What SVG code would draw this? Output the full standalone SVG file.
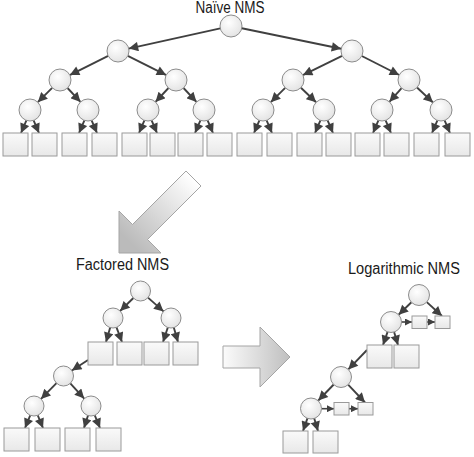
<svg xmlns="http://www.w3.org/2000/svg" width="474" height="457" viewBox="0 0 474 457">
<style>
.t{font-family:"Liberation Sans",Arial,sans-serif;font-size:16px;fill:#1a1a1a;text-anchor:middle}
.c{fill:url(#cg);stroke:#8c8c8c;stroke-width:1}
.b{fill:url(#bg);stroke:#9a9a9a;stroke-width:1}
.e{stroke:#404040;stroke-width:1.9;fill:none;marker-end:url(#ah)}
.s{stroke:#404040;stroke-width:1.6;fill:none;marker-end:url(#as)}
</style>
<defs>
<radialGradient id="cg" cx="0.4" cy="0.35" r="0.7">
<stop offset="0" stop-color="#ffffff"/><stop offset="1" stop-color="#e2e2e2"/>
</radialGradient>
<linearGradient id="bg" x1="0" y1="0" x2="0" y2="1">
<stop offset="0" stop-color="#fafafa"/><stop offset="1" stop-color="#e8e8e8"/>
</linearGradient>
<linearGradient id="ga" gradientUnits="userSpaceOnUse" x1="193" y1="178" x2="130" y2="242">
<stop offset="0" stop-color="#ffffff"/><stop offset="1" stop-color="#bbbbbb"/>
</linearGradient>
<linearGradient id="gr" gradientUnits="userSpaceOnUse" x1="223" y1="0" x2="290" y2="0">
<stop offset="0" stop-color="#fbfbfb"/><stop offset="1" stop-color="#bfbfbf"/>
</linearGradient>
<marker id="ah" viewBox="0 0 10 10" refX="10" refY="5" markerWidth="10.5" markerHeight="9.5" markerUnits="userSpaceOnUse" orient="auto">
<path d="M0,0 L10,5 L0,10 z" fill="#404040"/>
</marker>
<marker id="as" viewBox="0 0 10 10" refX="10" refY="5" markerWidth="7" markerHeight="7" markerUnits="userSpaceOnUse" orient="auto">
<path d="M0,0 L10,5 L0,10 z" fill="#404040"/>
</marker>
</defs>

<g id="labels">
<text class="t" x="230" y="13" textLength="69" lengthAdjust="spacingAndGlyphs">Naïve NMS</text>
<text class="t" x="122.5" y="270" textLength="93" lengthAdjust="spacingAndGlyphs">Factored NMS</text>
<text class="t" x="404" y="274" textLength="112" lengthAdjust="spacingAndGlyphs">Logarithmic NMS</text>
</g>

<g id="bigArrows">
<polygon id="arrowDownLeft" points="186,171 201,186 147.5,239.5 161,253 119,253 119,211 132.5,224.5" fill="url(#ga)" stroke="#a5a5a5" stroke-width="1"/>
<polygon id="arrowRight" points="223,346 260,346 260,327 290,357 260,387 260,368 223,368" fill="url(#gr)" stroke="#a5a5a5" stroke-width="1"/>
</g>

<g id="connectors">
<line class="e" x1="220.3" y1="28.4" x2="128.7" y2="48.6"/>
<line class="e" x1="241.8" y1="28.2" x2="341.2" y2="48.8"/>
<line class="e" x1="108.2" y1="55.9" x2="69.8" y2="75.1"/>
<line class="e" x1="127.8" y1="55.9" x2="166.2" y2="75.1"/>
<line class="e" x1="342.1" y1="55.9" x2="302.9" y2="75.1"/>
<line class="e" x1="361.8" y1="56" x2="399.2" y2="75"/>
<line class="e" x1="52.2" y1="87.8" x2="37.8" y2="102.2"/>
<line class="e" x1="67.5" y1="88" x2="80.5" y2="101.9"/>
<line class="e" x1="168.5" y1="88" x2="155.5" y2="101.9"/>
<line class="e" x1="183.5" y1="88" x2="196.5" y2="101.9"/>
<line class="e" x1="285.2" y1="87.8" x2="270.8" y2="102.2"/>
<line class="e" x1="300.9" y1="87.7" x2="316.1" y2="102.3"/>
<line class="e" x1="401.6" y1="88.2" x2="389.4" y2="101.8"/>
<line class="e" x1="417" y1="87.5" x2="433" y2="102.5"/>
<line class="e" x1="26.4" y1="120.4" x2="21" y2="133"/><line class="e" x1="33.6" y1="120.4" x2="39" y2="133"/>
<line class="e" x1="84.4" y1="120.4" x2="79" y2="133"/><line class="e" x1="91.6" y1="120.4" x2="97" y2="133"/>
<line class="e" x1="144.4" y1="120.4" x2="139" y2="133"/><line class="e" x1="151.6" y1="120.4" x2="157" y2="133"/>
<line class="e" x1="200.4" y1="120.4" x2="195" y2="133"/><line class="e" x1="207.6" y1="120.4" x2="213" y2="133"/>
<line class="e" x1="259.4" y1="120.4" x2="254" y2="133"/><line class="e" x1="266.6" y1="120.4" x2="272" y2="133"/>
<line class="e" x1="320.4" y1="120.4" x2="315" y2="133"/><line class="e" x1="327.6" y1="120.4" x2="333" y2="133"/>
<line class="e" x1="378.4" y1="120.4" x2="373" y2="133"/><line class="e" x1="385.6" y1="120.4" x2="391" y2="133"/>
<line class="e" x1="437.4" y1="120.4" x2="432" y2="133"/><line class="e" x1="444.6" y1="120.4" x2="450" y2="133"/>
<line class="e" x1="133.4" y1="298" x2="120.1" y2="311"/>
<line class="e" x1="148" y1="297.6" x2="163.5" y2="311.4"/>
<line class="e" x1="110.2" y1="327.6" x2="106" y2="342"/>
<line class="e" x1="116.5" y1="327.4" x2="122" y2="342"/>
<line class="e" x1="167.8" y1="327.5" x2="163" y2="342"/>
<line class="e" x1="173.8" y1="327.6" x2="178" y2="342"/>
<line class="e" x1="88" y1="360" x2="71.9" y2="370.5"/>
<line class="e" x1="56.5" y1="383.1" x2="41" y2="398.9"/>
<line class="e" x1="70.3" y1="383.4" x2="84.2" y2="398.6"/>
<line class="e" x1="30.2" y1="415.3" x2="25" y2="428"/>
<line class="e" x1="37.8" y1="415.3" x2="43" y2="428"/>
<line class="e" x1="88" y1="415.5" x2="84" y2="428"/>
<line class="e" x1="94.8" y1="415.3" x2="100" y2="428"/>
<line class="e" x1="411.4" y1="302.3" x2="398.6" y2="314.7"/>
<line class="e" x1="426.8" y1="302.1" x2="442" y2="316"/>
<line class="s" x1="401.5" y1="322" x2="412" y2="322"/>
<line class="s" x1="427" y1="322" x2="435" y2="322"/>
<line class="e" x1="387.6" y1="331.9" x2="383" y2="345"/>
<line class="e" x1="394.1" y1="332" x2="398" y2="345"/>
<line class="e" x1="367" y1="350" x2="348.3" y2="369.4"/>
<line class="e" x1="333.7" y1="384.5" x2="318.3" y2="400.5"/>
<line class="e" x1="348.1" y1="384.7" x2="365" y2="402.5"/>
<line class="s" x1="321.5" y1="408.7" x2="334" y2="408.7"/>
<line class="s" x1="349" y1="408.7" x2="358" y2="408.7"/>
<line class="e" x1="307.6" y1="417.9" x2="303" y2="431"/>
<line class="e" x1="314.1" y1="418" x2="318" y2="431"/>
</g>

<g id="naive">
<g id="n-root"><circle class="c" cx="231" cy="26" r="11"/></g>
<g id="n-l1a"><circle class="c" cx="118" cy="51" r="11"/></g>
<g id="n-l1b"><circle class="c" cx="352" cy="51" r="11"/></g>
<g id="n-l2a"><circle class="c" cx="60" cy="80" r="11"/></g>
<g id="n-l2b"><circle class="c" cx="176" cy="80" r="11"/></g>
<g id="n-l2c"><circle class="c" cx="293" cy="80" r="11"/></g>
<g id="n-l2d"><circle class="c" cx="409" cy="80" r="11"/></g>
<g id="n-l3a"><circle class="c" cx="30" cy="110" r="11"/></g>
<g id="n-l3b"><circle class="c" cx="88" cy="110" r="11"/></g>
<g id="n-l3c"><circle class="c" cx="148" cy="110" r="11"/></g>
<g id="n-l3d"><circle class="c" cx="204" cy="110" r="11"/></g>
<g id="n-l3e"><circle class="c" cx="263" cy="110" r="11"/></g>
<g id="n-l3f"><circle class="c" cx="324" cy="110" r="11"/></g>
<g id="n-l3g"><circle class="c" cx="382" cy="110" r="11"/></g>
<g id="n-l3h"><circle class="c" cx="441" cy="110" r="11"/></g>
<g id="n-boxes">
<rect class="b" x="3" y="133" width="25" height="23"/>
<rect class="b" x="32" y="133" width="25" height="23"/>
<rect class="b" x="62" y="133" width="25" height="23"/>
<rect class="b" x="92" y="133" width="25" height="23"/>
<rect class="b" x="122" y="133" width="25" height="23"/>
<rect class="b" x="150" y="133" width="25" height="23"/>
<rect class="b" x="178" y="133" width="25" height="23"/>
<rect class="b" x="207" y="133" width="25" height="23"/>
<rect class="b" x="237" y="133" width="25" height="23"/>
<rect class="b" x="267" y="133" width="25" height="23"/>
<rect class="b" x="297" y="133" width="25" height="23"/>
<rect class="b" x="326" y="133" width="25" height="23"/>
<rect class="b" x="355" y="133" width="25" height="23"/>
<rect class="b" x="384" y="133" width="25" height="23"/>
<rect class="b" x="414" y="133" width="25" height="23"/>
<rect class="b" x="445" y="133" width="25" height="23"/>
</g>
</g>

<g id="factored">
<g id="f-root"><circle class="c" cx="140.5" cy="291" r="10"/></g>
<g id="f-l1a"><circle class="c" cx="113" cy="318" r="10"/></g>
<g id="f-l1b"><circle class="c" cx="171" cy="318" r="10"/></g>
<g id="f-boxes1">
<rect class="b" x="88" y="342" width="25" height="23"/>
<rect class="b" x="117" y="342" width="25" height="23"/>
<rect class="b" x="144" y="342" width="25" height="23"/>
<rect class="b" x="173" y="342" width="25" height="23"/>
</g>
<g id="f-root2"><circle class="c" cx="63.5" cy="376" r="10"/></g>
<g id="f-l2a"><circle class="c" cx="34" cy="406" r="10"/></g>
<g id="f-l2b"><circle class="c" cx="91" cy="406" r="10"/></g>
<g id="f-boxes2">
<rect class="b" x="4" y="428" width="25" height="23"/>
<rect class="b" x="35" y="428" width="25" height="23"/>
<rect class="b" x="65" y="428" width="25" height="23"/>
<rect class="b" x="96" y="428" width="25" height="23"/>
</g>
</g>

<g id="logarithmic">
<g id="l-root"><circle class="c" cx="419" cy="295" r="10.5"/></g>
<g id="l-l1"><circle class="c" cx="391" cy="322" r="10.5"/></g>
<g id="l-small1">
<rect class="b" x="412" y="316" width="15" height="12.5"/>
<rect class="b" x="435" y="316" width="15" height="12.5"/>
</g>
<g id="l-boxes1">
<rect class="b" x="367" y="345" width="25" height="23"/>
<rect class="b" x="394" y="345" width="25" height="23"/>
</g>
<g id="l-root2"><circle class="c" cx="341" cy="377" r="10.5"/></g>
<g id="l-l2"><circle class="c" cx="311" cy="408.5" r="10.5"/></g>
<g id="l-small2">
<rect class="b" x="334" y="402.5" width="15" height="12.5"/>
<rect class="b" x="358" y="402.5" width="15" height="12.5"/>
</g>
<g id="l-boxes2">
<rect class="b" x="283" y="431" width="25" height="22"/>
<rect class="b" x="313" y="431" width="25" height="22"/>
</g>
</g>
</svg>
